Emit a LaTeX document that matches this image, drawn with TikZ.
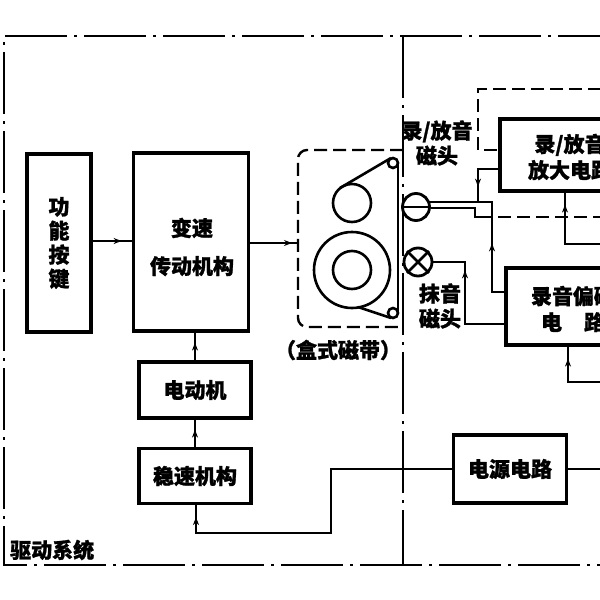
\documentclass[tikz,border=0pt]{standalone}
\usepackage{fontspec}
\newfontfamily\cjk{Noto Sans CJK SC}[BoldFeatures={FakeBold=1.2}]
\usetikzlibrary{arrows.meta,decorations.markings}
\tikzset{
  box/.style={draw,line width=3.2pt,inner sep=0pt},
  wire/.style={line width=2.4pt},
  lab/.style={font=\cjk\bfseries\fontsize{21}{24}\selectfont,inner sep=0pt,align=center},
  dd/.style={line width=2.4pt,dash pattern=on 62pt off 7pt on 3pt off 7pt},
  dsh/.style={line width=2.4pt,dash pattern=on 13pt off 6pt},
  marr/.style={postaction={decorate},decoration={markings,mark=at position #1 with {\arrow{Stealth[length=8pt,width=6pt]}}}},
}
\begin{document}
\begin{tikzpicture}[x=1pt,y=-1pt]
\useasboundingbox (0,0) rectangle (600,600);
\clip (0,0) rectangle (600,600);
% outer frame and divider
\draw[dd] (620,36) -- (4,36) -- (4,565) -- (620,565);
\draw[dd] (403,36) -- (403,565);
% left blocks
\node[box,minimum width=64pt,minimum height=178pt] (keys) at (59,243) {};
\node[lab] at (59,243) {功\\能\\按\\键};
\node[box,minimum width=115pt,minimum height=178pt] (trans) at (191,242) {};
\node[lab] at (192,247) {变速\\[14pt]传动机构};
\node[box,minimum width=112pt,minimum height=56pt] (motor) at (195,390) {};
\node[lab] at (195,390) {电动机};
\node[box,minimum width=112pt,minimum height=55pt] (stab) at (195,476) {};
\node[lab] at (195,476) {稳速机构};
\node[box,minimum width=113pt,minimum height=68pt] (power) at (510,469) {};
\node[lab] at (510,469) {电源电路};
\node[box,minimum width=140pt,minimum height=72pt] (amp) at (570,155) {};
\node[lab] at (570,157) {录/放音\\[2pt]放大电路};
\node[box,minimum width=134pt,minimum height=77pt] (bias) at (573,306.5) {};
\node[lab] at (573,309) {录音偏磁\\[2pt]电\hspace{22pt}路};
% cassette
\coordinate (cas) at (298,243);
\draw[dsh,rounded corners=9pt] (403,150) -- (298,150) -- (298,327) -- (403,327);
\begin{scope}[line width=2.6pt]
\draw (352,203) circle[radius=19];
\draw (352,270) circle[radius=38];
\draw (352,270) circle[radius=19];
\draw (393,163) circle[radius=5];
\draw (393,313) circle[radius=5];
\draw (398,163) -- (398,313);
\draw (340,188) -- (391,158);
\draw (358,307) -- (391,318);
\end{scope}
\node[lab] at (338,350) {（盒式磁带）};
% heads
\node[draw,circle,line width=2.8pt,minimum size=27pt,inner sep=0pt] (rph) at (416,207) {};
\draw[line width=2.8pt] (rph.west) -- (rph.east);
\node[draw,circle,line width=2.8pt,minimum size=28pt,inner sep=0pt] (erh) at (418,262) {};
\draw[line width=2.6pt] (erh.north west) -- (erh.south east) (erh.north east) -- (erh.south west);
\node[lab] at (437,143) {录/放音\\[1pt]磁头};
\node[lab] at (440,306) {抹音\\[1pt]磁头};
% dashed enclosure of amplifier
\draw[dsh] (620,89) -- (478,89) -- (478,150) -- (amp.west |- 0,150);
\draw[wire] (rph.east |- 0,208) -- (475,208) -- (475,217) -- (492,217);
\draw[dsh] (498,217) -- (620,217);
% connectors
\draw[wire,marr=29pt] (keys.east |- 0,241) -- (trans.west |- 0,241);
\draw[wire,marr=-6pt] (trans.east |- 0,243) -- (cas);
\draw[wire,marr=-10pt] (motor.north) -- (trans.south -| motor.north);
\draw[wire,marr=-10pt] (stab.north) -- (motor.south);
\draw[wire,marr=-12pt] (power.west) -- (331,469) -- (331,533) -- (196,533) -- (stab.south -| 196,0);
\draw[wire] (power.east) -- (620,469);
\draw[wire,marr=38pt] (amp.west |- 0,169) -- (478,169) -- (478,202);
\draw[wire,marr=61pt] (bias.west |- 0,292) -- (492,292) -- (492,202) -- (428,202);
\draw[wire,marr=-40pt] (bias.west |- 0,324) -- (465,324) -- (465,262) -- (erh.east);
\draw[wire,marr=-12pt] (620,244) -- (565,244) -- (amp.south -| 565,0);
\draw[wire,marr=-12pt] (620,382) -- (568,382) -- (bias.south -| 568,0);
\node[lab,anchor=west] at (10,550) {驱动系统};
\end{tikzpicture}
\end{document}
